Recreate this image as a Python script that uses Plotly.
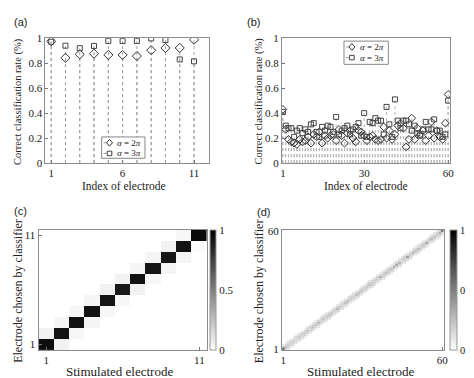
import numpy as np
import plotly.graph_objects as go

# ---------------- data ----------------
elec_a = list(range(1, 12))
rate_a_2pi = [0.975, 0.843, 0.871, 0.876, 0.866, 0.866, 0.857, 0.904, 0.922, 0.922, 0.988]
rate_a_3pi = [0.972, 0.940, 0.920, 0.938, 0.977, 0.977, 0.977, 0.998, 0.985, 0.830, 0.815]

elec_b = list(range(1, 61))
rate_b_2pi = [0.43, 0.27, 0.19, 0.17, 0.16, 0.15, 0.19, 0.17, 0.18, 0.21,
              0.16, 0.23, 0.21, 0.25, 0.16, 0.22, 0.20, 0.22, 0.23, 0.18,
              0.27, 0.22, 0.16, 0.24, 0.26, 0.20, 0.17, 0.26, 0.25, 0.22,
              0.18, 0.21, 0.22, 0.19, 0.18, 0.19, 0.29, 0.20, 0.26, 0.19,
              0.23, 0.30, 0.32, 0.28, 0.13, 0.19, 0.36, 0.19, 0.28, 0.23,
              0.26, 0.18, 0.22, 0.33, 0.20, 0.26, 0.21, 0.19, 0.32, 0.55]
rate_b_3pi = [0.41, 0.30, 0.28, 0.28, 0.21, 0.26, 0.28, 0.24, 0.27, 0.25,
              0.31, 0.32, 0.25, 0.21, 0.29, 0.26, 0.30, 0.29, 0.25, 0.37,
              0.23, 0.26, 0.28, 0.30, 0.23, 0.27, 0.29, 0.32, 0.22, 0.40,
              0.21, 0.33, 0.32, 0.36, 0.34, 0.34, 0.23, 0.45, 0.31, 0.21,
              0.51, 0.34, 0.28, 0.34, 0.34, 0.31, 0.26, 0.30, 0.24, 0.22,
              0.27, 0.33, 0.27, 0.27, 0.35, 0.26, 0.26, 0.21, 0.23, 0.50]

# confusion matrix (c): 11 electrodes
elec_c = list(range(1, 12))
diag_c = [0.95, 0.92, 0.93, 0.93, 0.92, 0.90, 0.93, 0.92, 0.91, 0.93, 0.96]
upper_c = [0.05, 0.04, 0.03, 0.04, 0.05, 0.05, 0.04, 0.04, 0.05, 0.03]   # chosen = stimulated + 1
lower_c = [0.05, 0.03, 0.04, 0.03, 0.03, 0.05, 0.03, 0.04, 0.04, 0.02]   # chosen = stimulated - 1

# confusion matrix (d): 60 electrodes (band values)
elec_d = list(range(1, 61))
diag_d = rate_b_2pi
off1_d = [0.18, 0.16, 0.15, 0.17, 0.14, 0.16, 0.15, 0.17, 0.16, 0.15,
          0.18, 0.16, 0.15, 0.17, 0.16, 0.14, 0.16, 0.17, 0.15, 0.16,
          0.18, 0.15, 0.16, 0.17, 0.15, 0.16, 0.14, 0.17, 0.16, 0.15,
          0.17, 0.16, 0.18, 0.15, 0.16, 0.17, 0.15, 0.16, 0.18, 0.17,
          0.15, 0.16, 0.17, 0.15, 0.16, 0.18, 0.16, 0.15, 0.17, 0.16,
          0.15, 0.17, 0.16, 0.15, 0.17, 0.16, 0.15, 0.17, 0.18]
off2_d = [0.09, 0.08, 0.10, 0.07, 0.09, 0.08, 0.09, 0.07, 0.08, 0.10,
          0.08, 0.09, 0.07, 0.08, 0.10, 0.09, 0.08, 0.07, 0.09, 0.08,
          0.10, 0.08, 0.09, 0.07, 0.08, 0.09, 0.10, 0.08, 0.07, 0.09,
          0.08, 0.10, 0.09, 0.08, 0.07, 0.09, 0.08, 0.10, 0.09, 0.08,
          0.07, 0.09, 0.08, 0.10, 0.08, 0.09, 0.07, 0.08, 0.09, 0.08,
          0.10, 0.09, 0.08, 0.07, 0.09, 0.08, 0.09, 0.10]

ticks_rate = [0, 0.2, 0.4, 0.6, 0.8, 1]
ticklabels_rate = ["0", "0.2", "0.4", "0.6", "0.8", "1"]
ticks_a = [1, 6, 11]
ticks_b = [1, 30, 60]
ticks_c = [1, 11]
ticks_d = [1, 60]
label_2pi = "<i>α</i> = 2<i>π</i>"
label_3pi = "<i>α</i> = 3<i>π</i>"

# ---------------- build matrices ----------------
Mc = np.zeros((11, 11))
for k in range(11):
    Mc[k, k] = diag_c[k]
for k in range(10):
    Mc[k + 1, k] = upper_c[k]
    Mc[k, k + 1] = lower_c[k]

Md = np.zeros((60, 60))
for k in range(60):
    Md[k, k] = diag_d[k]
for k in range(59):
    Md[k + 1, k] = off1_d[k]
    Md[k, k + 1] = off1_d[k]
for k in range(58):
    Md[k + 2, k] = off2_d[k]
    Md[k, k + 2] = off2_d[k]


def stems(xv, yv):
    xs, ys = [], []
    for xi, yi in zip(xv, yv):
        xs += [xi, xi, None]
        ys += [0, yi, None]
    return xs, ys


SERIF = "Liberation Serif, Times New Roman, serif"
SANS = "Liberation Sans, Arial, sans-serif"
W, H = 474, 378

fig = go.Figure()

stem_line = dict(color="#a0a0a0", width=1, dash="dot")
dia = dict(symbol="diamond-open", size=7, color="#333333", line=dict(width=1))
sq = dict(symbol="square-open", size=5, color="#444444", line=dict(width=1))

# ---- panel (a) ----
for vals in (rate_a_2pi, rate_a_3pi):
    sx, sy = stems(elec_a, vals)
    fig.add_trace(go.Scatter(x=sx, y=sy, mode="lines", line=stem_line, showlegend=False,
                             hoverinfo="skip", xaxis="x", yaxis="y"))
fig.add_trace(go.Scatter(x=elec_a, y=rate_a_2pi, mode="markers", marker=dia, name=label_2pi,
                         showlegend=False, xaxis="x", yaxis="y"))
fig.add_trace(go.Scatter(x=elec_a, y=rate_a_3pi, mode="markers", marker=sq, name=label_3pi,
                         showlegend=False, xaxis="x", yaxis="y"))

# ---- panel (b) ----
stem_line_b = dict(color="#b4b4b4", width=1, dash="dot")
dia_b = dict(symbol="diamond-open", size=6, color="#333333", line=dict(width=1))
sq_b = dict(symbol="square-open", size=5, color="#444444", line=dict(width=1))
for vals in (rate_b_2pi, rate_b_3pi):
    sx, sy = stems(elec_b, vals)
    fig.add_trace(go.Scatter(x=sx, y=sy, mode="lines", line=stem_line_b, showlegend=False,
                             hoverinfo="skip", xaxis="x2", yaxis="y2"))
fig.add_trace(go.Scatter(x=elec_b, y=rate_b_2pi, mode="markers", marker=dia_b, name=label_2pi,
                         showlegend=False, xaxis="x2", yaxis="y2"))
fig.add_trace(go.Scatter(x=elec_b, y=rate_b_3pi, mode="markers", marker=sq_b, name=label_3pi,
                         showlegend=False, xaxis="x2", yaxis="y2"))

gray_scale = [[0, "#ffffff"], [1, "#000000"]]
cb_common = dict(tickvals=[0, 0.5, 1], ticktext=["0", "0.5", "1"], outlinecolor="#999999",
                 outlinewidth=1, ticks="", lenmode="fraction", xanchor="left", yanchor="middle",
                 xpad=0, ypad=0)

# ---- panel (c) ----
fig.add_trace(go.Heatmap(z=Mc, x=elec_c, y=elec_c, colorscale=gray_scale, zmin=0, zmax=1,
                         xaxis="x3", yaxis="y3",
                         colorbar=dict(x=203 / W, y=1 - 285 / H, len=124 / H, thickness=6,
                                       tickfont=dict(family=SERIF, size=11, color="#222"),
                                       **cb_common)))

# ---- panel (d) ----
fig.add_trace(go.Heatmap(z=Md, x=elec_d, y=elec_d, colorscale=gray_scale, zmin=0, zmax=1,
                         xaxis="x4", yaxis="y4",
                         colorbar=dict(x=447 / W, y=1 - 285 / H, len=124 / H, thickness=7,
                                       tickfont=dict(family=SERIF, size=10.5, color="#222"),
                                       **cb_common)))


def px_dom_x(a, b):
    return [a / W, b / W]


def px_dom_y(top, bottom):
    return [1 - bottom / H, 1 - top / H]


ax_common = dict(showline=True, mirror=True, linecolor="#8c8c8c", linewidth=1, ticks="inside",
                 ticklen=3, tickcolor="#777", showgrid=False, zeroline=False,
                 tickfont=dict(family=SERIF, size=11, color="#222"))

fig.update_layout(
    width=W, height=H, margin=dict(l=0, r=0, t=0, b=0),
    paper_bgcolor="white", plot_bgcolor="white", showlegend=False,
    xaxis=dict(domain=px_dom_x(36, 202), range=[0.6, 12.05], tickvals=ticks_a, anchor="y", **ax_common),
    yaxis=dict(domain=px_dom_y(25, 154), range=[0, 1], tickvals=ticks_rate, ticktext=ticklabels_rate,
               anchor="x", **ax_common),
    xaxis2=dict(domain=px_dom_x(276, 447), range=[0.65, 60.8], tickvals=ticks_b, anchor="y2", **ax_common),
    yaxis2=dict(domain=px_dom_y(25, 154), range=[0, 1], tickvals=ticks_rate, ticktext=ticklabels_rate,
                anchor="x2", **ax_common),
    xaxis3=dict(domain=px_dom_x(29, 200), range=[0.5, 11.5], tickvals=ticks_c, anchor="y3", **ax_common),
    yaxis3=dict(domain=px_dom_y(223, 347), range=[0.5, 11.5], tickvals=ticks_c, anchor="x3", **ax_common),
    xaxis4=dict(domain=px_dom_x(276, 440), range=[0.5, 60.5], tickvals=ticks_d, anchor="y4", **ax_common),
    yaxis4=dict(domain=px_dom_y(223, 347), range=[0.5, 60.5], tickvals=ticks_d, anchor="x4", **ax_common),
)

# ---------------- compact legends (MATLAB style) ----------------
shapes = []
legend_annots = []


def P(xpx, ypx):
    return xpx / W, 1 - ypx / H


def add_legend(left, top, right, bottom, rows):
    x0, y0 = P(left, top)
    x1, y1 = P(right, bottom)
    shapes.append(dict(type="rect", xref="paper", yref="paper", x0=x0, x1=x1, y0=y1, y1=y0,
                       line=dict(color="#888", width=1), fillcolor="white", layer="above"))
    for (ypx, kind, label) in rows:
        lx0, ly = P(left + 2, ypx)
        lx1, _ = P(left + 12, ypx)
        shapes.append(dict(type="line", xref="paper", yref="paper", x0=lx0, x1=lx1, y0=ly, y1=ly,
                           line=dict(color="#999", width=1, dash="dot"), layer="above"))
        mx = left + 8
        if kind == "diamond":
            pts = [P(mx - 3, ypx), P(mx, ypx - 3.5), P(mx + 3, ypx), P(mx, ypx + 3.5)]
            path = "M {} {} L {} {} L {} {} L {} {} Z".format(*[c for p in pts for c in p])
            shapes.append(dict(type="path", xref="paper", yref="paper", path=path,
                               line=dict(color="#333", width=1), fillcolor="white", layer="above"))
        else:
            a0 = P(mx - 2.3, ypx - 2.3)
            a1 = P(mx + 2.3, ypx + 2.3)
            shapes.append(dict(type="rect", xref="paper", yref="paper", x0=a0[0], x1=a1[0],
                               y0=a1[1], y1=a0[1], line=dict(color="#444", width=1),
                               fillcolor="white", layer="above"))
        tx, ty = P(left + 14, ypx)
        legend_annots.append(dict(text=label, x=tx, y=ty, xanchor="left",
                                  font=dict(family=SERIF, size=9, color="#222")))


add_legend(93, 127, 137, 149, [(133, "diamond", label_2pi), (144, "square", label_3pi)])
add_legend(339, 28, 384, 52, [(34, "diamond", label_2pi), (45, "square", label_3pi)])

annots = [
    # panel labels
    dict(text="(a)", x=2 / W, y=1 - 8 / H, xanchor="left", font=dict(family=SANS, size=11)),
    dict(text="(b)", x=239 / W, y=1 - 8 / H, xanchor="left", font=dict(family=SANS, size=11)),
    dict(text="(c)", x=2 / W, y=1 - 203 / H, xanchor="left", font=dict(family=SANS, size=11)),
    dict(text="(d)", x=249 / W, y=1 - 205 / H, xanchor="left", font=dict(family=SANS, size=11)),
    # axis titles
    dict(text="Index of electrode", x=116 / W, y=1 - 178 / H, font=dict(family=SERIF, size=11.5)),
    dict(text="Index of electrode", x=361 / W, y=1 - 178 / H, font=dict(family=SERIF, size=11.5)),
    dict(text="Correct classification rate (%)", x=8 / W, y=1 - 90 / H, textangle=-90,
         font=dict(family=SERIF, size=10.5)),
    dict(text="Correct classification rate (%)", x=253 / W, y=1 - 90 / H, textangle=-90,
         font=dict(family=SERIF, size=10.5)),
    dict(text="Stimulated electrode", x=111 / W, y=1 - 369 / H, font=dict(family=SERIF, size=13)),
    dict(text="Stimulated electrode", x=356 / W, y=1 - 369 / H, font=dict(family=SERIF, size=13)),
    dict(text="Electrode chosen by classifier", x=8 / W, y=1 - 286 / H, textangle=-90,
         font=dict(family=SERIF, size=12)),
    dict(text="Electrode chosen by classifier", x=253 / W, y=1 - 286 / H, textangle=-90,
         font=dict(family=SERIF, size=12)),
] + legend_annots
for a in annots:
    a.setdefault("xanchor", "center")
    a.update(xref="paper", yref="paper", showarrow=False, yanchor="middle")
    a["font"].setdefault("color", "#222")
fig.update_layout(annotations=annots, shapes=shapes)

fig.write_html("out.html")
